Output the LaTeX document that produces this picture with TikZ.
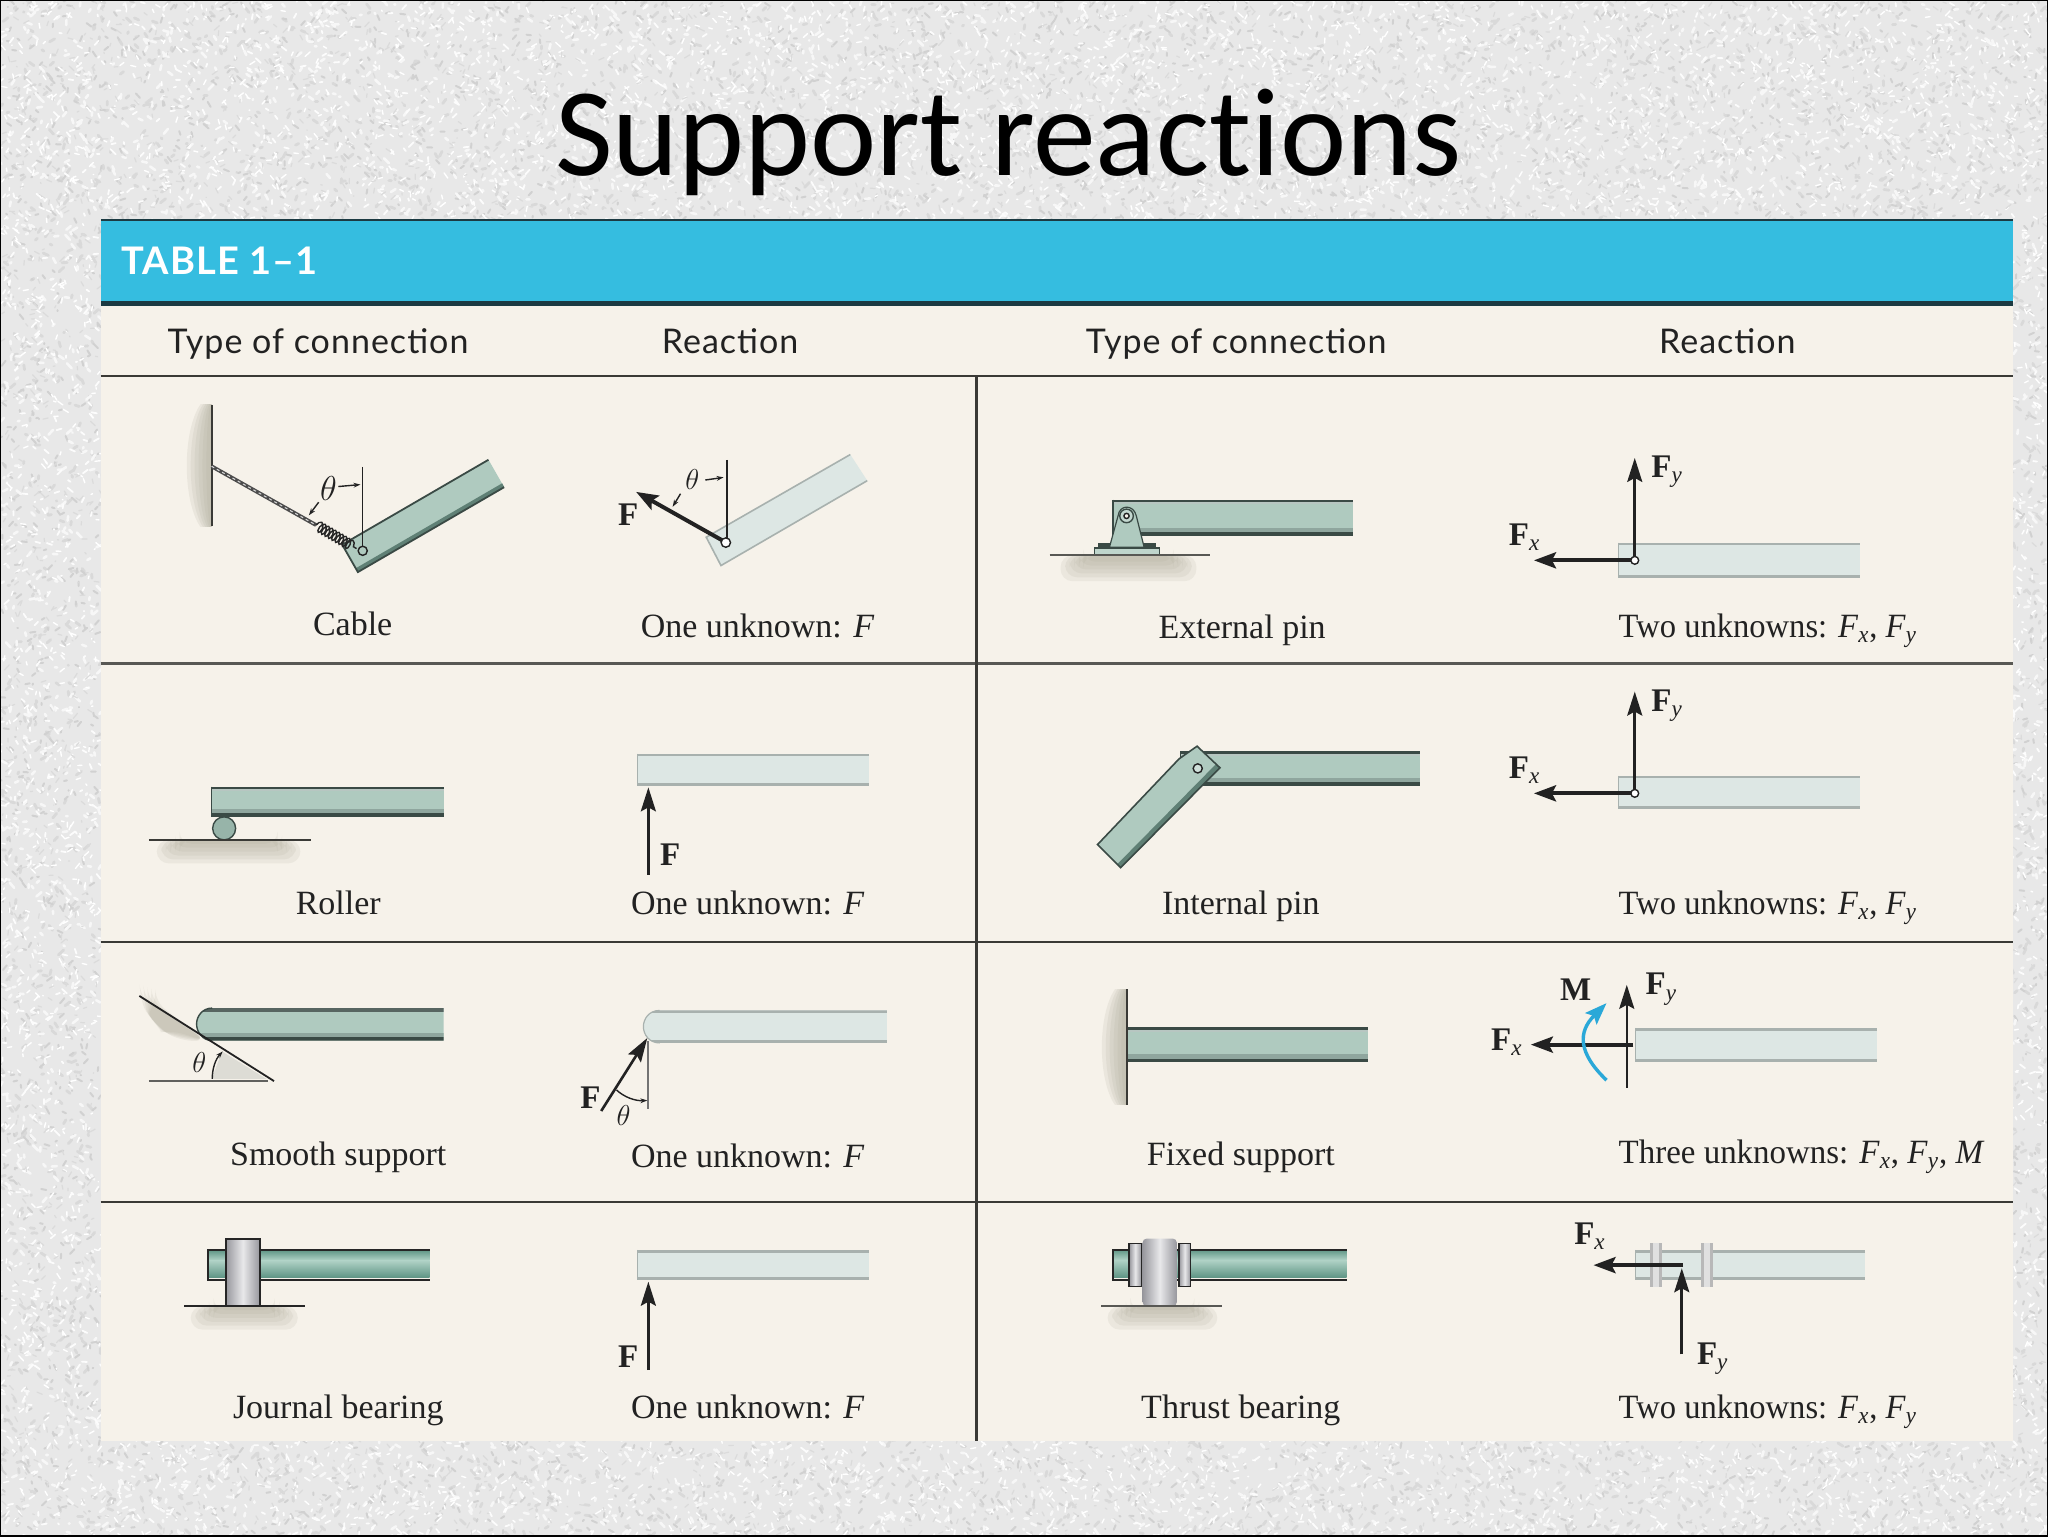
\documentclass[tikz,border=0pt]{standalone}
\usepackage{fontspec}
\usepackage{graphicx}
\setmainfont{Liberation Serif}
\newfontfamily\titlefont[Ligatures=NoCommon]{Carlito}
\newfontfamily\headfont[LetterSpace=3]{Lato}
\newfontfamily\tablefont[LetterSpace=2.6]{Lato}
\usetikzlibrary{arrows.meta,decorations.pathmorphing}
\definecolor{ink}{HTML}{222222}
\definecolor{cream}{HTML}{F6F2EA}
\definecolor{tblue}{HTML}{35BDE0}
\definecolor{tdark}{HTML}{1C3A42}
\definecolor{rule}{HTML}{3A3A36}
\definecolor{sage}{HTML}{AFCABF}
\definecolor{sagedk}{HTML}{5F8075}
\definecolor{edgedk}{HTML}{3A4A45}
\definecolor{pale}{HTML}{DDE7E4}
\definecolor{paleedge}{HTML}{A8B1AE}
\definecolor{shadowc}{HTML}{A9A796}
\definecolor{mblue}{HTML}{2AA8D8}
\definecolor{shaftd}{HTML}{5F9585}
\definecolor{shaftl}{HTML}{B0D2C6}
\definecolor{blockd}{HTML}{97979D}
\definecolor{blockl}{HTML}{E8E8EA}
\tikzset{
  lab/.style={anchor=base,text=ink,inner sep=0pt,font=\fontsize{17}{17}\selectfont},
  labl/.style={lab,anchor=base west},
  frc/.style={anchor=base west,text=ink,inner sep=0pt,font=\fontsize{16.5}{17}\selectfont},
  head/.style={anchor=base,text=ink,inner sep=0pt,font=\headfont\fontsize{17}{17}\selectfont},
  force/.style={draw=ink,line width=1.3pt,-{Stealth[length=12pt,width=7.5pt,inset=2pt]}},
  heavy/.style={draw=ink,line width=2pt,-{Stealth[length=11pt,width=8pt,inset=2pt]}},
  thin arrow/.style={draw=ink,line width=.7pt,-{Stealth[length=3.5pt,width=2.4pt]}},
  tline/.style={draw=rule,line width=1pt},
  guide/.style={draw=ink,line width=.7pt},
  wall/.style={draw=rule,line width=1pt},
  hole/.style={fill=white,draw=ink,line width=.7pt},
  soft/.style={fill=shadowc,opacity=.14,rounded corners=6pt},
}
\newcommand\speckset[2]{% grey, width
  \draw[black!#1,line width=#2pt,line cap=round]
    \foreach \i in {1,...,1400}{ ({rnd*1568},{rnd*168}) -- ++({rnd*8-4},{rnd*8-4}) }
    \foreach \i in {1,...,600}{ ({rnd*1568},{1103+rnd*73}) -- ++({rnd*8-4},{rnd*8-4}) }
    \foreach \i in {1,...,380}{ ({rnd*77},{168+rnd*935}) -- ++({rnd*8-4},{rnd*8-4}) }
    \foreach \i in {1,...,130}{ ({1541+rnd*27},{168+rnd*935}) -- ++({rnd*8-4},{rnd*8-4}) };
}
\newcommand\sagebeam[4]{% x1 x2 y1 y2
  \fill[sage] (#1,#3) rectangle (#2,#4);
  \fill[sagedk!70] (#1,#4-6) rectangle (#2,#4-2.5);
  \fill[edgedk] (#1,#4-2.5) rectangle (#2,#4);
  \fill[edgedk] (#1,#3) rectangle (#2,#3+2);
  \fill[sagedk!45] (#1,#3+2) rectangle (#2,#3+3.5);
}
\newcommand\palebeam[4]{%
  \fill[pale] (#1,#3) rectangle (#2,#4);
  \fill[paleedge] (#1,#3) rectangle (#2,#3+2);
  \fill[paleedge] (#1,#4-2) rectangle (#2,#4);
  \draw[paleedge,line width=.6pt] (#1,#3) -- (#1,#4);
}
\newcommand\groundshade[4]{% x1 x2 y1 y2
  \foreach \k in {0,...,5}{
    \fill[soft] (#1+\k*3.5,#3) rectangle (#2-\k*3.5,#4-\k*3);
  }
}
\newcommand\wallshade[3]{% x y1 y2
  \begin{scope}
  \clip (#1-22,#2) rectangle (#1,#3);
  \foreach \k in {0,...,5}{
    \fill[shadowc,opacity=.15] (#1,{(#2+#3)/2}) ellipse [x radius={19-3*\k},y radius={(#3-#2)/2+6-\k}];
  }
  \end{scope}
}
\newcommand\shaftbeam[4]{%
  \shade[top color=shaftd,bottom color=shaftl] (#1,#3) rectangle (#2,#3+8);
  \shade[top color=shaftl,bottom color=shaftd] (#1,#3+8) rectangle (#2,#4-2);
  \draw[draw=black!85,line width=1pt] (#2,#3) -- (#1,#3) -- (#1,#4) -- (#2,#4);
}
\newcommand\blockbar[4]{%
  \shade[left color=blockd,right color=blockd,middle color=blockl] (#1,#3) rectangle (#2,#4);
  \draw[black!85,line width=.8pt] (#1,#4) -- (#1,#3) -- (#2,#3) -- (#2,#4);
}
\newcommand\twoun{\scalebox{0.958}[1]{Two unknowns: \textit{F}\textsubscript{\itshape x}, \textit{F}\textsubscript{\itshape y}}}
\begin{document}
\begin{tikzpicture}[x=0.65306pt,y=-0.65306pt]
\useasboundingbox (0,0) rectangle (1568,1176);
% textured background
\fill[black!9] (0,0) rectangle (1568,1176);
\pgfmathsetseed{42}
\speckset{15}{1.4}
\speckset{18}{1.0}
\speckset{3}{1.3}
\speckset{1}{0.9}
\speckset{0}{0.7}
\speckset{14}{0.6}
\draw[black,line width=1pt] (0,0) rectangle (1568,1176);
% title
\node[anchor=base,inner sep=0pt,text=black,font=\titlefont\fontsize{62.8}{64}\selectfont] (title) at (772,134) {Support reactions};
% table
\fill[cream] (77,232) rectangle (1541,1103);
\fill[tblue] (77,168) rectangle (1541,232);
\fill[tdark] (77,167.5) rectangle (1541,169.5);
\fill[tdark] (77,230.5) rectangle (1541,234);
\node[anchor=base west,inner sep=0pt,text=white,font=\tablefont\bfseries\fontsize{19}{20}\selectfont] (tablehead) at (93,210) {TABLE 1–1};
\node[head] (h1) at (243.5,270.5) {Type of connection};
\node[head] (h2) at (559,270.5) {Reaction};
\node[head] (h3) at (946.5,270.5) {Type of connection};
\node[head] (h4) at (1322.5,270.5) {Reaction};
\draw[tline] (77,288) -- (1541,288);
\draw[tline,line width=1.3pt,draw=rule!85] (77,508) -- (1541,508);
\draw[tline] (77,721) -- (1541,721);
\draw[tline] (77,920) -- (1541,920);
\draw[tline,line width=1.3pt] (747.5,288) -- (747.5,1103);

% ---------- Cable
\wallshade{162}{310}{403}
\draw[wall] (162,310) -- (162,403);
\draw[draw=black!70,line width=1.9pt] (162,357) -- (242,402);
\draw[draw=black!15,line width=.5pt,dash pattern=on 1.5pt off 1.5pt] (162,357) -- (242,402);
\fill[sage] (374,352) -- (386,373) -- (274,438) -- (262,417) -- cycle;
\fill[sagedk] (386,373) -- (274,438) -- (272.5,435) -- (384.5,370) -- cycle;
\draw[edgedk,line width=.9pt] (262,417) -- (374,352);
\draw[edgedk,line width=.9pt] (386,373) -- (274,438) -- (262,417);
\draw[guide] (277.7,357.5) -- (277.7,419);
\draw[draw=black!85,line width=.7pt,decorate,decoration={coil,amplitude=2.6pt,segment length=2pt}] (242,402) -- (273,420);
\draw[hole,fill=sage] (277.7,421.7) circle (3.5);
\node[lab,font=\fontsize{16}{16}\selectfont\itshape] (c-th) at (251.5,383) {$\theta$};
\draw[thin arrow] (259,372.5) -- (276,371);
\draw[thin arrow] (244,384.5) -- (236.5,394.5);
\node[lab] (c-l) at (270,486.5) {Cable};

\fill[pale] (651,348) -- (664,368) -- (552,433) -- (540.7,411.3) -- cycle;
\draw[paleedge,line width=.8pt] (651,348) -- (540.7,411.3) -- (552,433) -- (664,368);
\draw[guide] (556.6,352) -- (556.6,415);
\draw[heavy] (556,415.4) -- (487,376.6);
\draw[hole] (555.7,415.4) circle (3.6);
\node[lab,font=\fontsize{15.5}{16}\selectfont] (c-rth) at (530,375) {$\theta$};
\draw[thin arrow] (540,367.5) -- (554,365.5);
\draw[thin arrow] (521,378) -- (515,388);
\node[frc] (c-f) at (473,402) {\textbf{F}};
\node[lab] (c-r) at (580,488) {One unknown: \textit{F}};

% ---------- Roller
\groundshade{120}{230}{643}{661}
\sagebeam{161.7}{339.6}{602.2}{625.2}
\draw[edgedk,line width=.7pt] (161.7,602.2) -- (161.7,625.2);
\draw[draw=edgedk,fill=sage!70!sagedk,line width=.7pt] (171.6,634.2) circle (8.8);
\draw[draw=rule,line width=1pt] (114,643) -- (238,643);
\node[lab] (r-l) at (259,700) {Roller};
\palebeam{488}{665}{577}{601.4}
\draw[force] (496.4,669.8) -- (496.4,602.8);
\node[frc] (r-f) at (505,663) {\textbf{F}};
\node[lab] (r-r) at (572.5,700) {One unknown: \textit{F}};

% ---------- Smooth support
\foreach \k in {0,...,4}{
  \fill[soft] (107+\k*3,763+\k) -- (158,797) -- (140-\k*2,797-\k*2) .. controls (125,790) and (113,778) .. (107+\k*3,763+\k) -- cycle;
}
\fill[shadowc!40] (170,805) -- (204,826) -- (162,826) -- cycle;
\begin{scope}
\clip (339.6,771.8) -- (162.5,771.8) .. controls (155,771.8) and (150.5,778) .. (150.5,784) .. controls (150.5,790) and (155,796.7) .. (162.5,796.7) -- (339.6,796.7) -- cycle;
\fill[sage] (150,771) rectangle (339.6,797);
\fill[edgedk!85] (150,771) rectangle (339.6,775);
\fill[sagedk!70] (150,791) rectangle (339.6,794);
\fill[edgedk] (150,794) rectangle (339.6,797);
\end{scope}
\draw[edgedk,line width=.7pt] (162.5,771.8) .. controls (155,771.8) and (150.5,778) .. (150.5,784) .. controls (150.5,790) and (155,796.7) .. (162.5,796.7);
\draw[draw=ink,line width=.9pt] (106.7,762.5) -- (209.8,827.7);
\draw[draw=rule!80,line width=1.3pt] (114,827.5) -- (205.5,827.5);
\node[lab,font=\fontsize{15.5}{16}\selectfont] (s-th) at (152.7,821.5) {$\theta$};
\draw[thin arrow] (162.5,826) .. controls (162.5,818) and (165,811) .. (170.5,805);
\node[lab] (s-l) at (259,892.5) {Smooth support};

\begin{scope}
\clip (679,773.6) -- (505,773.6) .. controls (497,773.6) and (492.6,780) .. (492.6,786) .. controls (492.6,792) and (497,798.5) .. (505,798.5) -- (679,798.5) -- cycle;
\fill[pale] (490,773) rectangle (679,799);
\fill[paleedge] (490,773) rectangle (679,775.4);
\fill[paleedge] (490,796.6) rectangle (679,799);
\end{scope}
\draw[paleedge,line width=.6pt] (505,773.6) .. controls (497,773.6) and (492.6,780) .. (492.6,786) .. controls (492.6,792) and (497,798.5) .. (505,798.5);
\draw[draw=black!55,line width=1.1pt] (496.4,797) -- (496.4,849.3);
\draw[force] (460.3,850.6) -- (495.6,794.7);
\draw[thin arrow] (472,834.5) .. controls (478,840) and (486,843) .. (495.6,842.5);
\node[lab,font=\fontsize{15.5}{16}\selectfont] (s-rth) at (477.5,861.5) {$\theta$};
\node[frc] (s-f) at (444,849) {\textbf{F}};
\node[lab] (s-r) at (572.5,894) {One unknown: \textit{F}};

% ---------- Journal bearing
\groundshade{146}{228}{1000}{1018}
\shaftbeam{159}{329}{957}{980}
\blockbar{172.9}{199}{948.8}{1000}
\draw[draw=black!85,line width=1pt] (141,1000) -- (233.4,1000);
\node[lab] (j-l) at (259,1086) {Journal bearing};
\palebeam{488}{665}{957}{980}
\draw[force] (496.4,1049) -- (496.4,981.3);
\node[frc] (j-f) at (473,1047) {\textbf{F}};
\node[lab] (j-r) at (572.5,1086) {One unknown: \textit{F}};

% ---------- External pin
\groundshade{812}{916}{425}{445}
\sagebeam{852}{1036}{382.6}{410}
\draw[edgedk,line width=.7pt] (852,382.6) -- (852,412);
\fill[edgedk] (840.8,416) rectangle (885,419.5);
\draw[draw=edgedk,fill=sage!80!white,line width=.6pt] (837.7,419.5) rectangle (887.5,425);
\draw[draw=edgedk,fill=sage,line width=.6pt] (849.4,419) -- (856,395) .. controls (857,386) and (868,386) .. (870,395) -- (876,419) -- cycle;
\draw[draw=edgedk,fill=sage!75,line width=.7pt] (862.5,395) circle (5.2);
\draw[hole,fill=cream] (862.5,395) circle (2);
\draw[draw=rule!85,line width=1.2pt] (803.7,425) -- (926.6,425);
\node[lab] (e-l) at (951,488.5) {External pin};
\palebeam{1239.4}{1424}{415.4}{442.2}
\draw[force] (1251.6,429) -- (1251.6,350.6);
\draw[heavy] (1251.6,429) -- (1174.4,429);
\draw[hole] (1251.6,429) circle (3);
\node[frc] (e-fy) at (1264,365.4) {\textbf{F}\textsubscript{\itshape y}};
\node[frc] (e-fx) at (1155,417.4) {\textbf{F}\textsubscript{\itshape x}};
\node[labl] (e-r) at (1239,488) {\twoun};

% ---------- Internal pin
\sagebeam{903.8}{1087}{575}{601.4}
\draw[edgedk,line width=.7pt] (903.8,575) -- (903.8,583);
\fill[sage] (916.5,571.3) -- (934,587.8) -- (858,664.3) -- (840.3,646.6) -- (902.7,581) -- cycle;
\fill[sagedk] (934,587.8) -- (858,664.3) -- (855.5,661.5) -- (931,585) -- cycle;
\draw[edgedk,line width=.8pt] (902.7,581) -- (916.5,571.3) -- (934,587.8) -- (858,664.3) -- (840.3,646.6) -- cycle;
\draw[hole,fill=sage!60] (917,588.3) circle (3.5);
\node[lab] (i-l) at (950,700.5) {Internal pin};
\palebeam{1239.4}{1424}{594}{619.2}
\draw[force] (1251.6,607.4) -- (1251.6,529.5);
\draw[heavy] (1251.6,607.4) -- (1174.4,607.4);
\draw[hole] (1251.6,607.4) circle (3);
\node[frc] (i-fy) at (1264,544.8) {\textbf{F}\textsubscript{\itshape y}};
\node[frc] (i-fx) at (1155,596) {\textbf{F}\textsubscript{\itshape x}};
\node[labl] (i-r) at (1239,700) {\twoun};

% ---------- Fixed support
\wallshade{862.6}{757.4}{846}
\sagebeam{862.6}{1047}{786.3}{813}
\draw[wall] (862.6,757.4) -- (862.6,846);
\node[lab] (f-l) at (950,892.5) {Fixed support};
\palebeam{1252}{1437}{787}{813}
\draw[force] (1245.5,832.8) -- (1245.5,754);
\draw[heavy] (1250.6,799.8) -- (1172,799.8);
\draw[draw=mblue,line width=1.7pt,-{Stealth[length=11pt,width=8pt,inset=2pt]}] (1230,827) .. controls (1208,806) and (1208,790) .. (1230,768);
\node[lab,font=\fontsize{16.5}{17}\selectfont\bfseries] (f-m) at (1206.4,766) {M};
\node[frc] (f-fy) at (1259.7,761.7) {\textbf{F}\textsubscript{\itshape y}};
\node[frc] (f-fx) at (1141.4,804) {\textbf{F}\textsubscript{\itshape x}};
\node[labl] (f-r) at (1239,890.5) {\scalebox{0.969}[1]{Three unknowns: \textit{F}\textsubscript{\itshape x}, \textit{F}\textsubscript{\itshape y}, \textit{M}}};

% ---------- Thrust bearing
\groundshade{848}{932}{1000}{1018}
\shaftbeam{852}{1031}{956.7}{980}
\blockbar{864.6}{873.8}{952}{985}
\draw[black!85,line width=.8pt] (864.6,985) -- (873.8,985);
\blockbar{902.7}{911.4}{952}{985}
\draw[black!85,line width=.8pt] (902.7,985) -- (911.4,985);
\shade[left color=blockd,right color=blockd,middle color=blockl,rounded corners=2pt] (874.8,1000) -- (874.8,948.3) -- (901,948.3) -- (901,1000) -- cycle;
\draw[draw=rule!85,line width=1pt] (843.3,1000) -- (935.8,1000);
\node[lab] (t-l) at (950,1086) {Thrust bearing};
\palebeam{1252}{1428}{957}{980}
\fill[black!28] (1263,952) rectangle (1272.4,985.6);
\fill[black!28] (1302.4,952) rectangle (1311.5,985.6);
\fill[black!12] (1265.5,952) rectangle (1270,985.6);
\fill[black!12] (1304.9,952) rectangle (1309,985.6);
\draw[heavy] (1288.6,968.6) -- (1220,968.6);
\draw[force] (1287.6,1037) -- (1287.6,971);
\node[frc] (t-fx) at (1205,953) {\textbf{F}\textsubscript{\itshape x}};
\node[frc] (t-fy) at (1299,1044.3) {\textbf{F}\textsubscript{\itshape y}};
\node[labl] (t-r) at (1239,1086) {\twoun};
\end{tikzpicture}
\end{document}
